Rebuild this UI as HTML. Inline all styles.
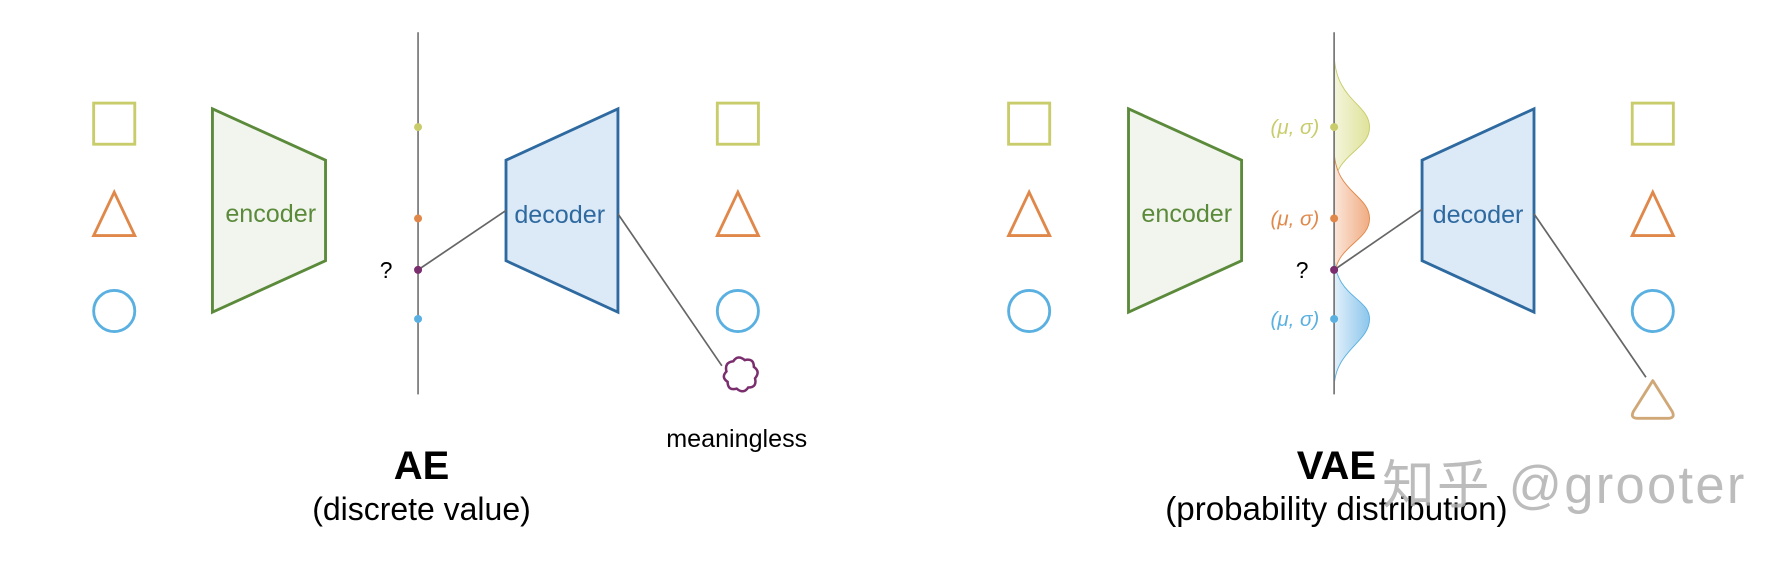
<!DOCTYPE html>
<html><head><meta charset="utf-8"><style>
html,body{margin:0;padding:0;background:#fff;width:1791px;height:566px;overflow:hidden}
svg{display:block}
text{font-family:"Liberation Sans","Noto Sans CJK SC",sans-serif}
</style></head><body>
<svg width="1791" height="566" viewBox="0 0 1568 495" xmlns="http://www.w3.org/2000/svg">
<defs>
<linearGradient id="gy" x1="0" x2="1"><stop offset="0" stop-color="#f4f5dc"/><stop offset="1" stop-color="#dfe39a"/></linearGradient>
<linearGradient id="go" x1="0" x2="1"><stop offset="0" stop-color="#fbe6da"/><stop offset="1" stop-color="#f0ac82"/></linearGradient>
<linearGradient id="gb" x1="0" x2="1"><stop offset="0" stop-color="#e2f0fa"/><stop offset="1" stop-color="#8cc6ec"/></linearGradient>
</defs>
<g fill="none" stroke-width="2.5">
<rect x="82" y="90" width="36" height="36" stroke="#c8cc6a"/>
<polygon points="100,168 82,206 118,206" stroke="#e0884a"/>
<circle cx="100" cy="272" r="18" stroke="#5ab0e0"/>
<rect x="628" y="90" width="36" height="36" stroke="#c8cc6a"/>
<polygon points="646,168 628,206 664,206" stroke="#e0884a"/>
<circle cx="646" cy="272" r="18" stroke="#5ab0e0"/>
<rect x="883" y="90" width="36" height="36" stroke="#c8cc6a"/>
<polygon points="901,168 883,206 919,206" stroke="#e0884a"/>
<circle cx="901" cy="272" r="18" stroke="#5ab0e0"/>
<rect x="1429" y="90" width="36" height="36" stroke="#c8cc6a"/>
<polygon points="1447,168 1429,206 1465,206" stroke="#e0884a"/>
<circle cx="1447" cy="272" r="18" stroke="#5ab0e0"/>
</g>
<polygon points="186,95 285,140 285,228 186,273" fill="#f2f5ee" stroke="#5a8a3a" stroke-width="2.5"/>
<polygon points="443,140 541,95 541,273 443,228" fill="#dce9f7" stroke="#2e6aa0" stroke-width="2.5"/>
<polygon points="988,95 1087,140 1087,228 988,273" fill="#f2f5ee" stroke="#5a8a3a" stroke-width="2.5"/>
<polygon points="1245,140 1343,95 1343,273 1245,228" fill="#dce9f7" stroke="#2e6aa0" stroke-width="2.5"/>
<text x="237" y="194" font-size="22" fill="#5a8a3a" text-anchor="middle">encoder</text>
<text x="490" y="195" font-size="22" fill="#2e6aa0" text-anchor="middle">decoder</text>
<text x="1039" y="194" font-size="22" fill="#5a8a3a" text-anchor="middle">encoder</text>
<text x="1294" y="195" font-size="22" fill="#2e6aa0" text-anchor="middle">decoder</text>
<path d="M1168,45 C1168,88 1199,90 1199,111 C1199,132 1168,134 1168,165 Z" fill="url(#gy)" stroke="#c8cc6a" stroke-width="0.8"/>
<path d="M1168,130 C1168,168 1199,170 1199,191 C1199,212 1168,214 1168,245 Z" fill="url(#go)" stroke="#e0884a" stroke-width="0.8"/>
<path d="M1168,222 C1168,260 1199,260 1199,279 C1199,300 1168,306 1168,340 Z" fill="url(#gb)" stroke="#5ab0e0" stroke-width="0.8"/>
<line x1="366" y1="28" x2="366" y2="345" stroke="#777" stroke-width="1.5"/>
<line x1="1168" y1="28" x2="1168" y2="345" stroke="#777" stroke-width="1.5"/>
<g stroke="#666" stroke-width="1.5">
<line x1="366" y1="236" x2="443" y2="184"/>
<line x1="541" y1="187" x2="632" y2="320"/>
<line x1="1168" y1="236" x2="1245" y2="183"/>
<line x1="1343" y1="187" x2="1441" y2="330"/>
</g>
<circle cx="366" cy="111" r="3.5" fill="#c8cc6a"/>
<circle cx="366" cy="191" r="3.5" fill="#e0884a"/>
<circle cx="366" cy="236" r="3.5" fill="#7a2e6e"/>
<circle cx="366" cy="279" r="3.5" fill="#5ab0e0"/>
<circle cx="1168" cy="111" r="3.5" fill="#c8cc6a"/>
<circle cx="1168" cy="191" r="3.5" fill="#e0884a"/>
<circle cx="1168" cy="236" r="3.5" fill="#7a2e6e"/>
<circle cx="1168" cy="279" r="3.5" fill="#5ab0e0"/>
<text x="338" y="243" font-size="20" fill="#000" text-anchor="middle">?</text>
<text x="1140" y="243" font-size="20" fill="#000" text-anchor="middle">?</text>
<g font-family="Liberation Serif,serif" font-style="italic" font-size="18" text-anchor="end">
<text x="1155" y="117" fill="#c8cc6a">(μ, σ)</text>
<text x="1155" y="197" fill="#e0884a">(μ, σ)</text>
<text x="1155" y="285" fill="#5ab0e0">(μ, σ)</text>
</g>
<path d="M636,325 q-2,-8 6,-9 q4,-6 10,-1 q8,-2 8,6 q6,4 1,10 q2,8 -6,8 q-4,6 -10,1 q-8,2 -8,-6 q-6,-4 -1,-9z" fill="none" stroke="#7a2e6e" stroke-width="2.2"/>
<text x="645" y="391" font-size="22" fill="#000" text-anchor="middle">meaningless</text>
<path d="M1447,333 L1464,360 Q1467,366 1460,366 L1434,366 Q1427,366 1430,360 Z" fill="none" stroke="#d0a878" stroke-width="2.5" stroke-linejoin="round"/>
<text x="369" y="419" font-size="35" font-weight="bold" text-anchor="middle">AE</text>
<text x="369" y="455" font-size="28" text-anchor="middle">(discrete value)</text>
<text x="1170" y="419" font-size="35" font-weight="bold" text-anchor="middle">VAE</text>
<text x="1170" y="455" font-size="29" text-anchor="middle">(probability distribution)</text>
<text x="1210" y="440" font-size="46" fill="#b0b0b0" fill-opacity="0.85" letter-spacing="2">知乎 @grooter</text>
</svg>
</body></html>
